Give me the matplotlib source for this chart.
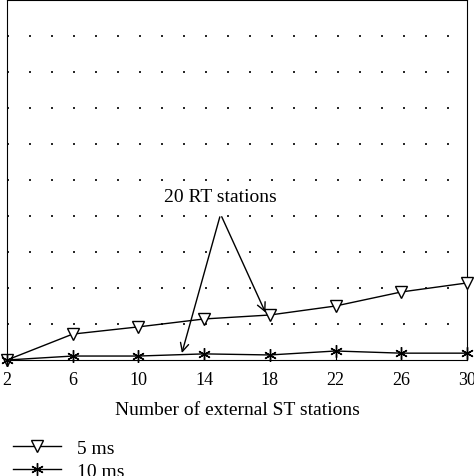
import matplotlib
matplotlib.use("Agg")
import matplotlib.pyplot as plt
from matplotlib.lines import Line2D

plt.rcParams['font.family'] = ['Liberation Serif']

x = [2, 6, 10, 14, 18, 22, 26, 30]
ms5 = [0.0, 0.72, 0.92, 1.14, 1.25, 1.5, 1.89, 2.14]
ms10 = [0.0, 0.11, 0.11, 0.17, 0.14, 0.25, 0.19, 0.19]
xticks = [2, 6, 10, 14, 18, 22, 26, 30]

fig = plt.figure(figsize=(4.74, 4.77), dpi=100)
ax = fig.add_axes([7/474, 1 - 361/477, 460/474, 360/477])
ax.plot(x, ms5, color='black', lw=1, marker='v', ms=9, mfc='white', mec='black', clip_on=False, zorder=3)
ax.plot(x, ms10, color='black', lw=1, marker=(6, 2, 0), ms=9, mec='black', clip_on=False, zorder=3)
ax.set_xlim(2, 30)
ax.set_ylim(0, 10)
ax.set_xticks(xticks)
ax.set_xticklabels([str(v) for v in xticks], fontsize=13)
ax.set_yticks(range(1, 10))
ax.set_yticklabels([])
ax.tick_params(axis='y', length=0)
ax.tick_params(axis='x', direction='in', length=4, pad=8)
ax.grid(axis='y', linestyle=(0, (1.2, 12)), color='black', lw=1.2)
ax.set_xlabel('Number of external ST stations', fontsize=14, labelpad=9)
for s in ax.spines.values():
    s.set_linewidth(0.8)

ax.annotate('', xy=(17.8, 1.25), xytext=(15.0, 4.05),
            arrowprops=dict(arrowstyle='->', color='black', lw=1, mutation_scale=15))
ax.annotate('', xy=(12.6, 0.12), xytext=(15.0, 4.05),
            arrowprops=dict(arrowstyle='->', color='black', lw=1, mutation_scale=15))
ax.text(15.0, 4.3, '20 RT stations', ha='center', va='bottom', fontsize=14)

handles = [Line2D([], [], color='black', lw=1, marker='v', ms=9, mfc='white'),
           Line2D([], [], color='black', lw=1, marker=(6, 2, 0), ms=9)]
fig.legend(handles, ['5 ms', '10 ms'], loc='lower left', bbox_to_anchor=(-0.01, -0.045),
           frameon=False, fontsize=14, handlelength=2.5, labelspacing=0.3)
fig.savefig('out.png', dpi=100)
